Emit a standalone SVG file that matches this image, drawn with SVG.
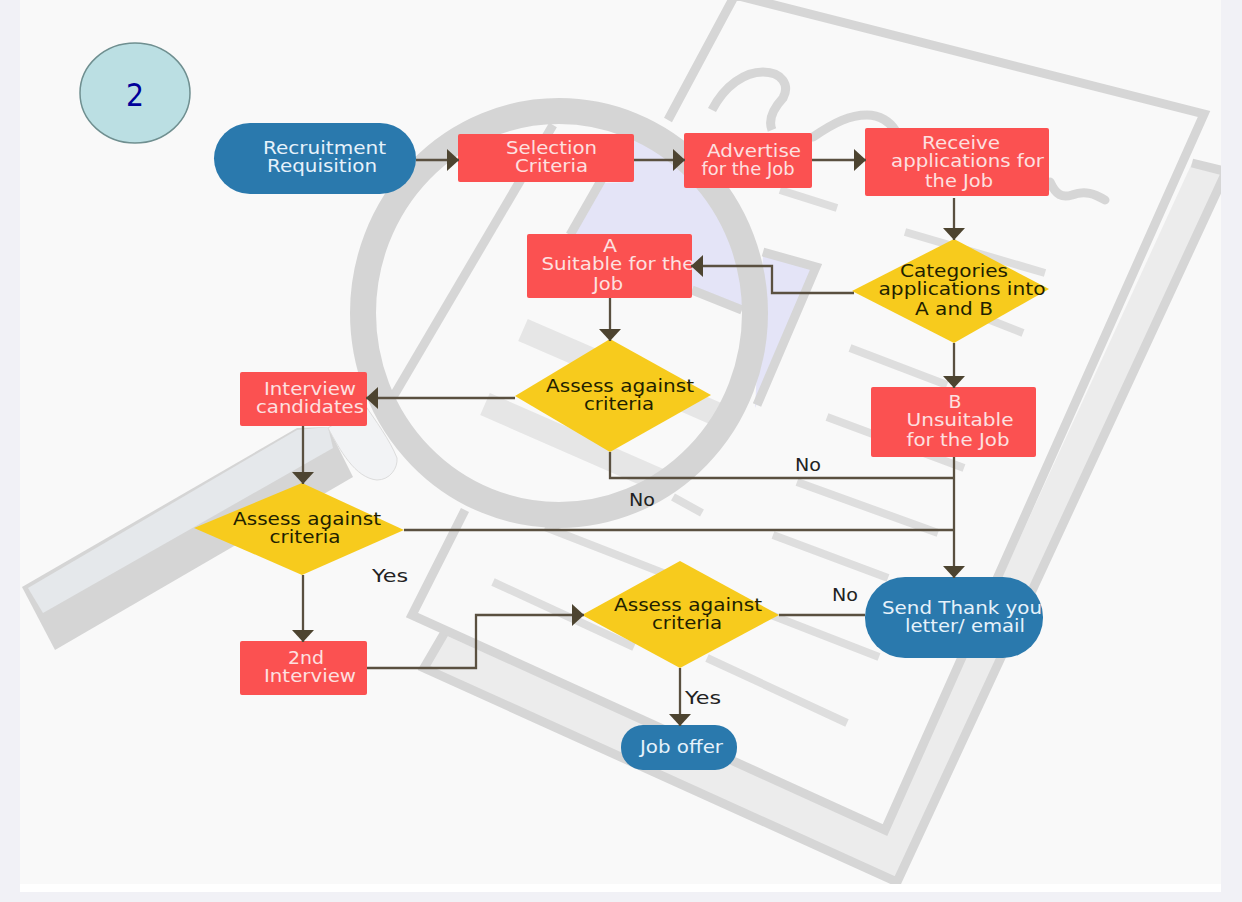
<svg xmlns="http://www.w3.org/2000/svg" width="1242" height="902" viewBox="0 0 1242 902">
<style>
text{font-family:"DejaVu Sans",sans-serif;font-size:18px;text-anchor:middle}
.r{fill:#fb5151}.b{fill:#2a79ad}.y{fill:#f7cb1d}
.tr{fill:#fde0e0}.tb{fill:#e6f2fb}.ty{fill:#221f00}.tl{fill:#222}
.c{fill:none;stroke:#5a5040;stroke-width:2.3}
.ar{marker-end:url(#a)}
.g{fill:none;stroke:#d6d6d6;stroke-width:9}
.rowline{fill:none;stroke:#dedede;stroke-width:8}
.fat{fill:none;stroke:#e6e6e6;stroke-width:24}
</style>
<defs>
<marker id="a" markerUnits="userSpaceOnUse" markerWidth="14" markerHeight="24" refX="12" refY="11.5" orient="auto"><path d="M0,0.5L12,11.5L0,22.5Z" fill="#4d4430"/></marker>
<clipPath id="card"><rect x="20" y="0" width="1201" height="884"/></clipPath>
</defs>
<rect width="1242" height="902" fill="#f1f1f6"/>
<rect x="20" y="0" width="1201" height="892" fill="#fff"/>
<rect x="20" y="0" width="1201" height="884" fill="#f9f9f9"/>
<g id="background" clip-path="url(#card)">
<path d="M1192,163L1222,170L1222,178L897,882L426,668L445,635L885,832Z" fill="#ececec"/>
<path class="g" d="M1192,163L1224,171M1226,172L897,882L424,668L445,632"/>
<path class="g" d="M668,120L735,-5L1204,114L885,830L412,615L465,510"/>
<path class="g" d="M712,110C725,85 745,72 763,72C782,72 790,85 783,98C772,110 768,120 772,130"/>
<path class="g" stroke-linecap="round" d="M813,137C835,122 850,115 867,115C880,115 890,122 895,130M1050,182C1056,195 1062,198 1072,195C1085,190 1095,194 1105,200"/>
<path class="rowline" d="M780,190L837,208M905,232L1045,273M985,318L1023,333M850,348L947,385M827,417L964,468M797,482L938,533M773,535L888,578M545,527L879,657M493,582L634,647M707,658L847,723M673,497L702,513"/>
<path d="M22,587L297,428L328,427L353,477L55,650Z" fill="#d5d5d5"/>
<path d="M28,588L297,430L328,427L333,448L43,613Z" fill="#e5e8eb"/>
<path d="M328,428C340,450 355,478 377,480C390,480 398,468 397,458C390,440 375,420 365,405Z" fill="#f2f3f5" stroke="#dcdcdc" stroke-width="1"/>
<path d="M634,138C690,160 735,220 742,295L742,310L692,290L692,234L573,234L600,183L634,182Z" fill="#e4e4f7"/>
<path d="M763,255L816,268L755,408Z" fill="#e4e4f7"/>
<path class="g" d="M610,165L570,235"/>
<path class="g" d="M553,125L393,397"/>
<path class="g" d="M763,252L816,267L757,405M692,290L742,310"/>
<path class="fat" d="M523,330L735,422M485,404L670,485"/>
<ellipse cx="559" cy="313" rx="196" ry="202" fill="none" stroke="#d5d5d5" stroke-width="26"/>
</g>
<g id="badge"><ellipse cx="135" cy="93" rx="55" ry="50" fill="#bbdfe3" stroke="#6f8f90" stroke-width="1.5"/><text x="135" y="106" textLength="18" lengthAdjust="spacingAndGlyphs" style="font-size:32px;fill:#000099">2</text></g>
<g id="recruitment"><rect class="b" x="214" y="123" width="202" height="71" rx="36"/><text class="tb" x="324.5" y="154" textLength="123" lengthAdjust="spacingAndGlyphs">Recruitment</text><text class="tb" x="322" y="172" textLength="110" lengthAdjust="spacingAndGlyphs">Requisition</text></g>
<g id="selection"><rect class="r" x="458" y="134" width="176" height="48" rx="2"/><text class="tr" x="551.5" y="154" textLength="91" lengthAdjust="spacingAndGlyphs">Selection</text><text class="tr" x="551.5" y="172" textLength="73" lengthAdjust="spacingAndGlyphs">Criteria</text></g>
<g id="advertise"><rect class="r" x="684" y="133" width="128" height="55" rx="2"/><text class="tr" x="754" y="157" textLength="94" lengthAdjust="spacingAndGlyphs">Advertise</text><text class="tr" x="748" y="175" textLength="93" lengthAdjust="spacingAndGlyphs">for the Job</text></g>
<g id="receive"><rect class="r" x="865" y="128" width="184" height="68" rx="2"/><text class="tr" x="961" y="149" textLength="78" lengthAdjust="spacingAndGlyphs">Receive</text><text class="tr" x="967.5" y="167" textLength="153" lengthAdjust="spacingAndGlyphs">applications for</text><text class="tr" x="959" y="187" textLength="68" lengthAdjust="spacingAndGlyphs">the Job</text></g>
<g id="categories"><path class="y" d="M954,239L1049,289L954,343L852,291Z"/><text class="ty" x="954" y="277" textLength="108" lengthAdjust="spacingAndGlyphs">Categories</text><text class="ty" x="962" y="295" textLength="167" lengthAdjust="spacingAndGlyphs">applications into</text><text class="ty" x="954" y="315" textLength="78" lengthAdjust="spacingAndGlyphs">A and B</text></g>
<g id="suitable"><rect class="r" x="527" y="234" width="165" height="64" rx="2"/><text class="tr" x="610" y="252" textLength="14" lengthAdjust="spacingAndGlyphs">A</text><text class="tr" x="618" y="270" textLength="153" lengthAdjust="spacingAndGlyphs">Suitable for the</text><text class="tr" x="608" y="290" textLength="30" lengthAdjust="spacingAndGlyphs">Job</text></g>
<g id="unsuitable"><rect class="r" x="871" y="387" width="165" height="70" rx="2"/><text class="tr" x="955" y="408" textLength="13" lengthAdjust="spacingAndGlyphs">B</text><text class="tr" x="960" y="426" textLength="107" lengthAdjust="spacingAndGlyphs">Unsuitable</text><text class="tr" x="958" y="446" textLength="103" lengthAdjust="spacingAndGlyphs">for the Job</text></g>
<g id="assess1"><path class="y" d="M610,339L711,395L610,452L515,396Z"/><text class="ty" x="620" y="392" textLength="148" lengthAdjust="spacingAndGlyphs">Assess against</text><text class="ty" x="619" y="410" textLength="70" lengthAdjust="spacingAndGlyphs">criteria</text></g>
<g id="interview"><rect class="r" x="240" y="372" width="127" height="54" rx="2"/><text class="tr" x="310" y="395" textLength="92" lengthAdjust="spacingAndGlyphs">Interview</text><text class="tr" x="310" y="413" textLength="108" lengthAdjust="spacingAndGlyphs">candidates</text></g>
<g id="assess2"><path class="y" d="M302,483L404,530L302,575L194,528Z"/><text class="ty" x="307" y="525" textLength="148" lengthAdjust="spacingAndGlyphs">Assess against</text><text class="ty" x="305" y="543" textLength="71" lengthAdjust="spacingAndGlyphs">criteria</text></g>
<g id="second"><rect class="r" x="240" y="641" width="127" height="54" rx="2"/><text class="tr" x="306" y="664" textLength="36" lengthAdjust="spacingAndGlyphs">2nd</text><text class="tr" x="310" y="682" textLength="92" lengthAdjust="spacingAndGlyphs">Interview</text></g>
<g id="assess3"><path class="y" d="M680,561L779,615L680,668L582,615Z"/><text class="ty" x="688" y="611" textLength="148" lengthAdjust="spacingAndGlyphs">Assess against</text><text class="ty" x="687" y="629" textLength="70" lengthAdjust="spacingAndGlyphs">criteria</text></g>
<g id="thanks"><rect class="b" x="865" y="577" width="178" height="81" rx="40"/><text class="tb" x="962" y="614" textLength="160" lengthAdjust="spacingAndGlyphs">Send Thank you</text><text class="tb" x="965" y="632" textLength="120" lengthAdjust="spacingAndGlyphs">letter/ email</text></g>
<g id="offer"><rect class="b" x="621" y="725" width="116" height="45" rx="22"/><text class="tb" x="681.5" y="753" textLength="83" lengthAdjust="spacingAndGlyphs">Job offer</text></g>
<g id="connectors">
<path class="c ar" d="M416,160H459"/>
<path class="c ar" d="M634,160H685"/>
<path class="c ar" d="M812,160H866"/>
<path class="c ar" d="M954,198V240"/>
<path class="c ar" d="M854,293H772V266H691"/>
<path class="c ar" d="M954,343V388"/>
<path class="c ar" d="M610,298V341"/>
<path class="c ar" d="M515,398H366"/>
<path class="c ar" d="M303,426V484"/>
<path class="c ar" d="M303,575V642"/>
<path class="c ar" d="M367,668H476V615H584"/>
<path class="c ar" d="M680,668V726"/>
<path class="c ar" d="M954,457V578"/>
<path class="c" d="M610,452V478H954"/>
<path class="c" d="M404,530H954"/>
<path class="c" d="M779,615H865"/>
</g>
<g id="labels">
<text class="tl" x="808" y="471" textLength="26" lengthAdjust="spacingAndGlyphs">No</text><text class="tl" x="642" y="506" textLength="26" lengthAdjust="spacingAndGlyphs">No</text><text class="tl" x="390" y="582" textLength="36" lengthAdjust="spacingAndGlyphs">Yes</text><text class="tl" x="845" y="601" textLength="26" lengthAdjust="spacingAndGlyphs">No</text><text class="tl" x="703" y="704" textLength="36" lengthAdjust="spacingAndGlyphs">Yes</text>
</g>
</svg>
